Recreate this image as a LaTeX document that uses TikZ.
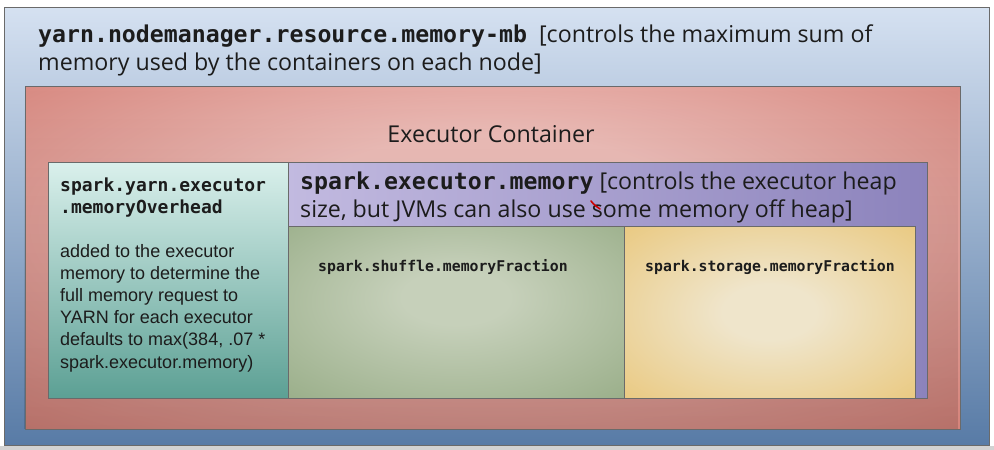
\documentclass[tikz,border=0pt]{standalone}
\usepackage{fontspec}
\usetikzlibrary{fadings}
\setmainfont{Open Sans}
\newfontfamily\monof{DejaVu Sans Mono}
\newfontfamily\arialf{Liberation Sans}
\definecolor{rin}{HTML}{EDBDB8}
\definecolor{rout}{HTML}{CC6E64}
\definecolor{gin}{HTML}{C6D0BA}
\definecolor{gout}{HTML}{7F9A6C}
\definecolor{yin}{HTML}{EFE5CB}
\definecolor{yout}{HTML}{E6B64E}
\definecolor{edge}{HTML}{6A6A6A}
\definecolor{ink}{HTML}{1C1C1C}
\definecolor{bluetop}{RGB}{213,225,241}
\definecolor{bluemid}{RGB}{176,199,229}
\definecolor{bluebot}{RGB}{88,123,166}
\definecolor{tealtop}{RGB}{218,240,236}
\definecolor{tealbot}{RGB}{92,160,148}
\definecolor{purpl}{RGB}{194,186,224}
\definecolor{purpr}{RGB}{140,131,188}
\pgfdeclareradialshading{redglow}{\pgfpoint{0bp}{10bp}}{color(0bp)=(rin); color(10bp)=(rin); color(47bp)=(rout)}
\pgfdeclareradialshading{greenglow}{\pgfpoint{0bp}{5bp}}{color(0bp)=(gin); color(8bp)=(gin); color(55bp)=(gout)}
\pgfdeclareradialshading{yellowglow}{\pgfpoint{0bp}{0bp}}{color(0bp)=(yin); color(8bp)=(yin); color(55bp)=(yout)}
\tikzset{
  box/.style={draw=edge, line width=1pt},
  lbl/.style={anchor=base west, inner sep=0pt, text=ink},
  big/.style={font=\fontsize{23.2}{28}\selectfont},
}
\begin{document}
\begin{tikzpicture}[x=1pt,y=-1pt]
\useasboundingbox (0,0) rectangle (994,450);
\fill[white] (0,0) rectangle (994,450);
\fill[gray!35] (0,446) rectangle (994,450);
% outer blue
\shade[top color=bluetop, middle color=bluemid, bottom color=bluebot] (4,7) rectangle (989,445);
\draw[box] (4,7) rectangle (989,445);
% red executor container
\shade[shading=redglow] (25,86) rectangle (960,429);
\fill[black, opacity=0.14, path fading=north] (25,86) rectangle (960,429);
\draw[box] (25,86) rectangle (960,429);
% teal
\shade[top color=tealtop, bottom color=tealbot] (48,162) rectangle (288,398);
\draw[box] (48,162) rectangle (288,398);
% purple
\shade[left color=purpl, right color=purpr] (288,162) rectangle (927,398);
\draw[box] (288,162) rectangle (927,398);
% green
\shade[shading=greenglow] (288,226) rectangle (624,398);
\draw[box] (288,226) rectangle (624,398);
% yellow
\shade[shading=yellowglow] (624,226) rectangle (915,398);
\draw[box] (624,226) rectangle (915,398);

% texts
\node[lbl, big] (t1) at (38,42) {{\monof\bfseries yarn.nodemanager.resource.memory-mb}\ \ [controls the maximum sum of};
\node[lbl, big] (t2) at (38,70) {memory used by the containers on each node]};
\node[anchor=base, inner sep=0pt, text=ink, big] (ec) at (491,142) {Executor Container};
\node[lbl, big] (em1) at (300,189) {{\monof\bfseries spark.executor.memory} [controls the executor heap};
\node[lbl, big] (em2) at (300,217) {size, but JVMs can also use some memory off heap]};
\node[lbl, font=\fontsize{18}{22}\selectfont\monof\bfseries] (ov1) at (60,191) {spark.yarn.executor};
\node[lbl, font=\fontsize{18}{22}\selectfont\monof\bfseries] (ov2) at (60,213) {.memoryOverhead};
\foreach \t [count=\i] in {added to the executor, memory to determine the, full memory request to, YARN for each executor, {defaults to max(384, .07 *}, spark.executor.memory)}
  \node[lbl, font=\fontsize{18}{22}\selectfont\arialf] (d\i) at (60,{257+22.2*(\i-1)}) {\t};
\node[lbl, font=\fontsize{14.8}{18}\selectfont\monof\bfseries] (sh) at (318,271) {spark.shuffle.memoryFraction};
\node[lbl, font=\fontsize{14.8}{18}\selectfont\monof\bfseries] (st) at (645,271) {spark.storage.memoryFraction};
% red pen mark
\draw[red!80!black, line width=1.6pt, line cap=round] (591,201) .. controls (594,205) and (597,207) .. (600,209);
\end{tikzpicture}
\end{document}
